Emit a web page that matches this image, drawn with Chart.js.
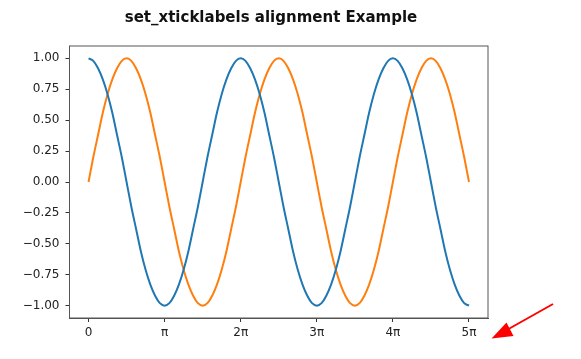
<!DOCTYPE html>
<html>
<head>
<meta charset="utf-8">
<script src="https://cdn.jsdelivr.net/npm/chart.js@4"></script>
<style>
  body { margin: 0; background: white; }
  canvas { display: block; }
</style>
</head>
<body>
<canvas id="plot" width="581" height="359"></canvas>
<script>
// x positions in multiples of pi (step pi/16)
const xPi = [
  0, 0.0625, 0.125, 0.1875, 0.25, 0.3125, 0.375, 0.4375, 0.5, 0.5625, 0.625, 0.6875, 0.75, 0.8125, 0.875, 0.9375,
  1, 1.0625, 1.125, 1.1875, 1.25, 1.3125, 1.375, 1.4375, 1.5, 1.5625, 1.625, 1.6875, 1.75, 1.8125, 1.875, 1.9375,
  2, 2.0625, 2.125, 2.1875, 2.25, 2.3125, 2.375, 2.4375, 2.5, 2.5625, 2.625, 2.6875, 2.75, 2.8125, 2.875, 2.9375,
  3, 3.0625, 3.125, 3.1875, 3.25, 3.3125, 3.375, 3.4375, 3.5, 3.5625, 3.625, 3.6875, 3.75, 3.8125, 3.875, 3.9375,
  4, 4.0625, 4.125, 4.1875, 4.25, 4.3125, 4.375, 4.4375, 4.5, 4.5625, 4.625, 4.6875, 4.75, 4.8125, 4.875, 4.9375,
  5
];

// blue curve
const cosValues = [
  1, 0.98, 0.92, 0.83, 0.71, 0.56, 0.38, 0.2, 0, -0.2, -0.38, -0.56, -0.71, -0.83, -0.92, -0.98,
  -1, -0.98, -0.92, -0.83, -0.71, -0.56, -0.38, -0.2, 0, 0.2, 0.38, 0.56, 0.71, 0.83, 0.92, 0.98,
  1, 0.98, 0.92, 0.83, 0.71, 0.56, 0.38, 0.2, 0, -0.2, -0.38, -0.56, -0.71, -0.83, -0.92, -0.98,
  -1, -0.98, -0.92, -0.83, -0.71, -0.56, -0.38, -0.2, 0, 0.2, 0.38, 0.56, 0.71, 0.83, 0.92, 0.98,
  1, 0.98, 0.92, 0.83, 0.71, 0.56, 0.38, 0.2, 0, -0.2, -0.38, -0.56, -0.71, -0.83, -0.92, -0.98,
  -1
];

// orange curve
const sinValues = [
  0, 0.2, 0.38, 0.56, 0.71, 0.83, 0.92, 0.98, 1, 0.98, 0.92, 0.83, 0.71, 0.56, 0.38, 0.2,
  0, -0.2, -0.38, -0.56, -0.71, -0.83, -0.92, -0.98, -1, -0.98, -0.92, -0.83, -0.71, -0.56, -0.38, -0.2,
  0, 0.2, 0.38, 0.56, 0.71, 0.83, 0.92, 0.98, 1, 0.98, 0.92, 0.83, 0.71, 0.56, 0.38, 0.2,
  0, -0.2, -0.38, -0.56, -0.71, -0.83, -0.92, -0.98, -1, -0.98, -0.92, -0.83, -0.71, -0.56, -0.38, -0.2,
  0, 0.2, 0.38, 0.56, 0.71, 0.83, 0.92, 0.98, 1, 0.98, 0.92, 0.83, 0.71, 0.56, 0.38, 0.2,
  0
];

const xTickValues = [0, 1, 2, 3, 4, 5];
const xTickLabels = ['0', 'π', '2π', '3π', '4π', '5π'];
const yTickValues = [-1, -0.75, -0.5, -0.25, 0, 0.25, 0.5, 0.75, 1];

const titleText = 'set_xticklabels alignment Example';
const font = 'DejaVu Sans';

function toPoints(xs, ys) {
  return xs.map(function(x, i) {
    return { x: x, y: ys[i] };
  });
}

const frameAndTitlePlugin = {
  id: 'frame_and_title',
  beforeDraw: (chart) => {
    const ctx = chart.ctx;
    ctx.save();
    ctx.fillStyle = 'white';
    ctx.fillRect(0, 0, chart.width, chart.height);
    ctx.restore();
  },
  afterDraw: (chart) => {
    const ctx = chart.ctx;
    const a = chart.chartArea;
    ctx.save();
    // axes box
    ctx.strokeStyle = '#555';
    ctx.lineWidth = 1;
    ctx.strokeRect(a.left, a.top, a.right - a.left, a.bottom - a.top);
    // title
    ctx.fillStyle = '#111';
    ctx.font = 'bold 15px "' + font + '"';
    ctx.textAlign = 'center';
    ctx.textBaseline = 'middle';
    ctx.fillText(titleText, 271, 18.5);
    // red arrow
    ctx.strokeStyle = '#ff0000';
    ctx.fillStyle = '#ff0000';
    ctx.lineWidth = 2;
    ctx.beginPath();
    ctx.moveTo(553, 304);
    ctx.lineTo(505, 331);
    ctx.stroke();
    ctx.beginPath();
    ctx.moveTo(491.5, 338.5);
    ctx.lineTo(506.5, 322.5);
    ctx.lineTo(513.5, 336);
    ctx.closePath();
    ctx.fill();
    ctx.restore();
  }
};

const config = {
  type: 'line',
  plugins: [frameAndTitlePlugin],
  data: {
    datasets: [
      {
        data: toPoints(xPi, cosValues),
        borderColor: '#1f77b4',
        backgroundColor: '#1f77b4',
        borderWidth: 2,
        pointRadius: 0,
        cubicInterpolationMode: 'monotone',
      },
      {
        data: toPoints(xPi, sinValues),
        borderColor: '#ff7f0e',
        backgroundColor: '#ff7f0e',
        borderWidth: 2,
        pointRadius: 0,
        cubicInterpolationMode: 'monotone',
      }
    ]
  },
  options: {
    responsive: false,
    animation: false,
    devicePixelRatio: 1,
    layout: {
      padding: { left: 0, right: 93, top: 46, bottom: 0 }
    },
    plugins: {
      legend: { display: false },
      title: { display: false },
      tooltip: { enabled: false }
    },
    scales: {
      x: {
        type: 'linear',
        min: -0.25,
        max: 5.25,
        afterBuildTicks: (scale) => {
          scale.ticks = xTickValues.map(v => ({ value: v }));
        },
        afterFit: (scale) => {
          scale.height = 41;
        },
        ticks: {
          color: '#222',
          font: { family: font, size: 12 },
          padding: 4,
          maxRotation: 0,
          callback: (value) => xTickLabels[xTickValues.indexOf(value)]
        },
        grid: {
          drawOnChartArea: false,
          drawTicks: true,
          tickLength: 4,
          color: '#333'
        },
        border: { display: true, color: '#555' }
      },
      y: {
        type: 'linear',
        min: -1.1,
        max: 1.1,
        afterBuildTicks: (scale) => {
          scale.ticks = yTickValues.map(v => ({ value: v }));
        },
        afterFit: (scale) => {
          scale.width = 69.5;
        },
        ticks: {
          color: '#222',
          font: { family: font, size: 12 },
          padding: 6,
          callback: (value) => value.toFixed(2).replace('-', '\u2212')
        },
        grid: {
          drawOnChartArea: false,
          drawTicks: true,
          tickLength: 4,
          color: '#333'
        },
        border: { display: true, color: '#555' }
      }
    }
  }
};

const canvas = document.getElementById('plot');
const chart = new Chart(canvas.getContext('2d'), config);
</script>
</body>
</html>
